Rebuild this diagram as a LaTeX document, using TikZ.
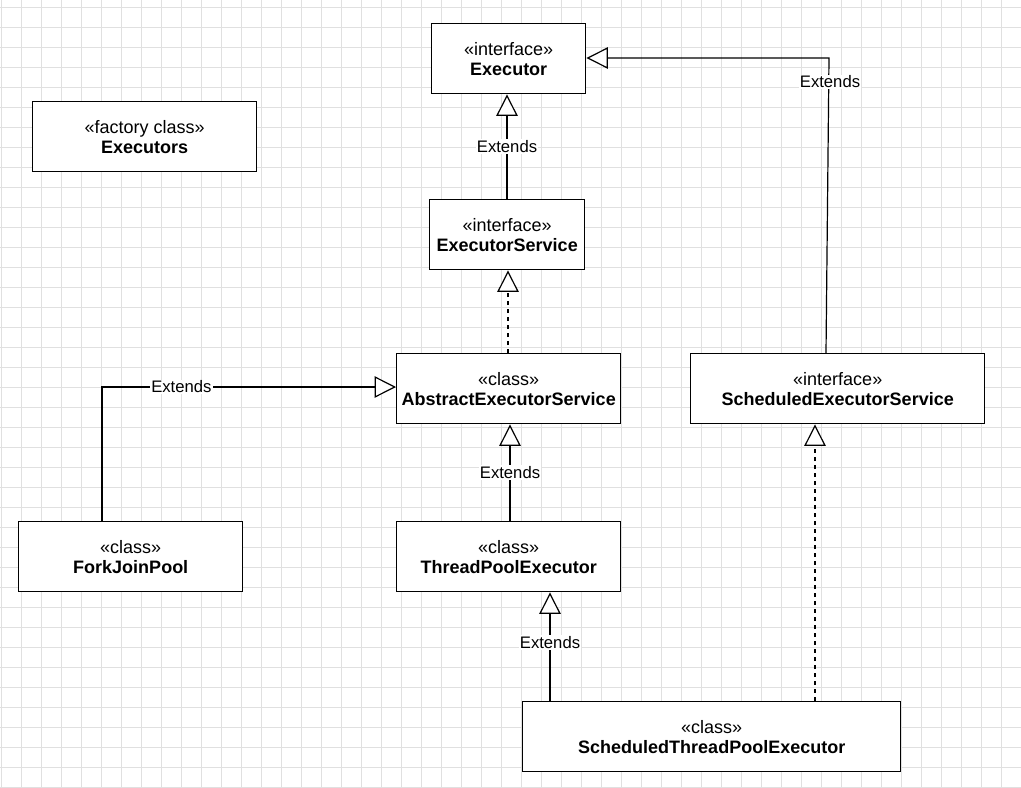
\documentclass[tikz,border=0pt]{standalone}
\usepackage{fontspec}
\setmainfont{Liberation Sans}
\usetikzlibrary{arrows.meta}
\begin{document}
\begin{tikzpicture}[x=0.75pt,y=-0.75pt,
  box/.style={draw,line width=1.1pt,fill=white,minimum width=#1*0.75pt,minimum height=52.5pt,align=center,font=\fontsize{13.5}{15}\selectfont,anchor=north west,inner sep=0pt},
  inh/.style={line width=0.9pt,-{Triangle[open,length=16pt,width=16pt,fill=white]}},
  dsh/.style={dash pattern=on 3pt off 3pt},
  lab/.style={fill=white,inner sep=1pt,font=\fontsize{12.5}{14}\selectfont}]
\useasboundingbox (0,0) rectangle (1021,788);
\fill[white] (0,0) rectangle (1021,788);
\foreach \x in {0,20,...,1020} \draw[black!12,line width=0.4pt] (\x+1,0) -- (\x+1,788);
\foreach \y in {0,20,...,780} \draw[black!12,line width=0.4pt] (0,\y+7) -- (1021,\y+7);
\node[box=154] (ex) at (431,23) {«interface»\\\textbf{Executor}};
\node[box=224] (exs) at (32,101) {«factory class»\\\textbf{Executors}};
\node[box=155] (es) at (429,199) {«interface»\\\textbf{ExecutorService}};
\node[box=224] (aes) at (396,353) {«class»\\\textbf{AbstractExecutorService}};
\node[box=294] (ses) at (690,353) {«interface»\\\textbf{ScheduledExecutorService}};
\node[box=224] (fjp) at (18,521) {«class»\\\textbf{ForkJoinPool}};
\node[box=224] (tpe) at (396,521) {«class»\\\textbf{ThreadPoolExecutor}};
\node[box=378] (stpe) at (522,701) {«class»\\\textbf{ScheduledThreadPoolExecutor}};
\draw[inh] (es.north -| 507,0) -- node[lab]{Extends} (ex.south -| 507,0);
\draw[inh,dsh] (aes.north -| 508,0) -- (es.south -| 508,0);
\draw[inh] (tpe.north -| 510,0) -- node[lab]{Extends} (aes.south -| 510,0);
\draw[inh] (stpe.north -| 550,0) -- node[lab,pos=0.54]{Extends} (tpe.south -| 550,0);
\draw[inh,dsh] (stpe.north -| 815,0) -- (ses.south -| 815,0);
\coordinate (c1) at (829,58);
\draw[inh] (ses.north -| 826,0) -- (c1) -- (ex.east |- c1);
\node[lab] at (830,82) {Extends};
\coordinate (c2) at (102,387);
\draw[inh] (fjp.north -| 102,0) -- (c2) -- node[lab,pos=0.27]{Extends} (aes.west |- c2);
\end{tikzpicture}
\end{document}
